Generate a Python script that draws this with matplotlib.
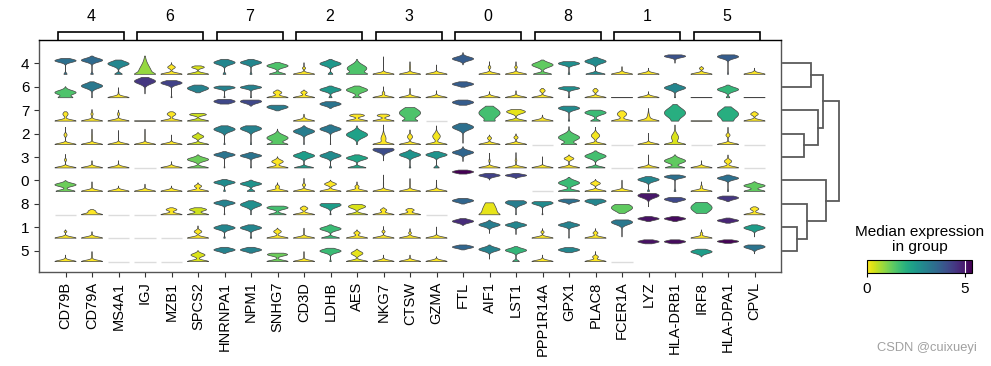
import numpy as np
import matplotlib
matplotlib.use("Agg")
import matplotlib.pyplot as plt
from matplotlib import colors, cm
from matplotlib.transforms import blended_transform_factory

plt.rcParams['font.family'] = ['Liberation Sans', 'DejaVu Sans']

# ---------------- data ----------------
groups = ['4', '6', '7', '2', '3', '0', '8', '1', '5']          # row order (dendrogram order)
genes = ['CD79B', 'CD79A', 'MS4A1', 'IGJ', 'MZB1', 'SPCS2', 'HNRNPA1', 'NPM1', 'SNHG7',
         'CD3D', 'LDHB', 'AES', 'NKG7', 'CTSW', 'GZMA', 'FTL', 'AIF1', 'LST1',
         'PPP1R14A', 'GPX1', 'PLAC8', 'FCER1A', 'LYZ', 'HLA-DRB1', 'IRF8', 'HLA-DPA1', 'CPVL']
var_group_labels = ['4', '6', '7', '2', '3', '0', '8', '1', '5']
var_group_positions = [(0, 2), (3, 5), (6, 8), (9, 11), (12, 14), (15, 17), (18, 20), (21, 23), (24, 26)]

# median expression in group (colour)
median_expr = [
    [3.4, 3.5, 2.9, 0.85, 0, 0.3, 2.9, 2.9, 1.5, 0, 2.5, 1.5, 0, 0, 0, 3.8, 0, 0, 1.3, 2.7, 2.8, 0, 0, 4.0, 0, 3.8, 0],
    [1.5, 3.2, 0, 4.5, 4.3, 3.0, 3.0, 3.0, 0, 0, 2.5, 1.4, 0, 0, 0, 3.8, 0, 0, 0, 2.7, 0, 0, 0, 2.9, 0, 1.8, 0],
    [0, 0, 0, 0, 0, 0.4, 4.2, 4.2, 3.1, 0, 3.3, 0, 0, 1.5, 0, 3.8, 1.6, 0.2, 0, 2.8, 1.7, 0, 0, 2.0, 0, 2.0, 0],
    [0, 0, 0, 0, 0, 0.4, 3.0, 3.0, 1.4, 3.1, 3.2, 2.3, 0, 0, 0.1, 3.4, 0, 0, 0, 1.5, 0.1, 0, 0, 0.3, 0, 0, 0],
    [0, 0, 0, 0, 0, 1.2, 3.3, 3.3, 0, 2.4, 2.8, 2.2, 4.1, 2.6, 2.6, 3.6, 0, 0, 0, 0, 1.6, 0, 0, 1.3, 0, 0, 0],
    [1.2, 0, 0, 0, 0, 0, 2.8, 2.6, 0, 0, 0, 0, 0, 0, 0, 5.4, 4.3, 4.3, 0, 1.7, 0, 0, 2.9, 3.4, 0, 3.4, 1.3],
    [0, 0, 0, 0, 0, 0.4, 3.0, 2.7, 1.6, 0, 2.4, 0.3, 0, 0, 0, 3.6, 0.2, 3.1, 2.8, 3.4, 2.9, 1.3, 5.0, 4.2, 1.6, 4.5, 0],
    [0, 0, 0, 0, 0, 0, 2.9, 2.9, 0, 0, 1.7, 0, 0, 0, 0, 4.7, 3.1, 2.9, 0, 3.0, 0, 3.2, 5.1, 5.2, 0, 4.8, 2.4],
    [0, 0, 0, 0, 0, 0.3, 3.0, 3.0, 1.2, 0, 1.7, 0.2, 0, 0, 0, 3.6, 3.0, 1.8, 0, 2.9, 0, 0, 5.1, 5.2, 2.4, 5.3, 3.3],
]
# fraction of cells with zero expression
zero_frac = [
    [0.07, 0.05, 0.11, 0.05, 0.62, 0.54, 0.05, 0.04, 0.25, 0.85, 0.08, 0.16, 0.95, 0.9, 0.95, 0, 0.85, 0.85, 0.23, 0.04, 0.26, 0.95, 0.95, 0, 0.81, 0.02, 0.95],
    [0.2, 0.01, 0.9, 0, 0.02, 0, 0.03, 0.03, 0.59, 0.7, 0.06, 0.12, 0.85, 0.92, 0.95, 0, 0.95, 0.95, 0.7, 0.04, 0.7, 1, 0.97, 0.02, 1, 0.06, 1],
    [0.64, 0.85, 0.87, 1, 0.55, 0.47, 0, 0, 0, 0.9, 0, 0.5, 0.54, 0.1, 1, 0, 0.05, 0.33, 0.9, 0.03, 0.15, 0.44, 0.4, 0.02, 1, 0.03, 0.62],
    [0.8, 0.9, 0.95, 0.95, 0.96, 0.48, 0.02, 0.02, 0.21, 0.01, 0.01, 0.01, 0.48, 0.64, 0.45, 0, 0.78, 0.78, 1, 0.15, 0.47, 1, 0.97, 0.4, 1, 0.75, 1],
    [0.88, 0.95, 0.95, 1, 0.96, 0.3, 0.02, 0.02, 0.48, 0.26, 0.04, 0.27, 0, 0.03, 0.1, 0, 0.9, 0.88, 0.98, 0.56, 0.24, 1, 0.95, 0.24, 0.97, 0.59, 1],
    [0.31, 0.95, 0.97, 0.97, 0.97, 0.67, 0.04, 0.15, 0.78, 0.82, 0.51, 0.78, 0.93, 0.93, 0.93, 0, 0, 0, 1, 0.26, 0.56, 0.97, 0.04, 0.05, 0.9, 0.03, 0.33],
    [1, 0.67, 1, 1, 0.58, 0.42, 0.02, 0.01, 0.29, 0.62, 0.02, 0.35, 0.7, 0.64, 1, 0, 0.03, 0.01, 0.02, 0, 0, 0, 0, 0, 0, 0, 0.59],
    [0.9, 0.96, 1, 1, 1, 0.62, 0.03, 0.03, 0.62, 0.95, 0.27, 0.7, 0.85, 0.87, 0.95, 0, 0, 0, 0.85, 0.01, 0.75, 0, 0, 0, 0.88, 0, 0],
    [0.95, 0.92, 1, 1, 1, 0.43, 0, 0, 0.38, 0.95, 0.03, 0.44, 0.97, 0.95, 0.97, 0, 0, 0.12, 0.95, 0, 0.72, 1, 0, 0, 0, 0, 0],
]
# mode of the expressing cells (row-scaled expression, 0..1)
expr_mode = [
    [0.58, 0.6, 0.45, 0.0, 0.3, 0.3, 0.5, 0.5, 0.36, 0.26, 0.45, 0.25, 0.3, 0.3, 0.2, 0.66, 0.3, 0.3, 0.4, 0.46, 0.55, 0.15, 0.1, 0.77, 0.25, 0.75, 0.1],
    [0.22, 0.5, 0.15, 0.7, 0.63, 0.4, 0.43, 0.44, 0.22, 0.22, 0.34, 0.33, 0.2, 0.15, 0.1, 0.58, 0.1, 0.1, 0.3, 0.4, 0.3, 0, 0.1, 0.42, 0, 0.35, 0],
    [0.3, 0.3, 0.3, 0, 0.3, 0.28, 0.84, 0.84, 0.6, 0.15, 0.73, 0.24, 0.24, 0.35, 0, 0.8, 0.35, 0.4, 0.1, 0.55, 0.36, 0.3, 0.0, 0.35, 0, 0.3, 0.3],
    [0.41, 0.3, 0.3, 0.3, 0.2, 0.34, 0.65, 0.68, 0.28, 0.56, 0.66, 0.42, 0.25, 0.33, 0.35, 0.74, 0.27, 0.3, 0, 0.3, 0.38, 0, 0.2, 0.3, 0, 0.4, 0],
    [0.34, 0.15, 0.15, 0, 0.1, 0.36, 0.56, 0.52, 0.27, 0.52, 0.52, 0.42, 0.78, 0.56, 0.56, 0.66, 0.3, 0.32, 0.2, 0.4, 0.5, 0, 0.2, 0.3, 0.1, 0.28, 0],
    [0.28, 0.2, 0.1, 0.1, 0.1, 0.22, 0.38, 0.32, 0.2, 0.27, 0.31, 0.2, 0.3, 0.25, 0.2, 0.83, 0.68, 0.68, 0, 0.36, 0.34, 0.2, 0.5, 0.62, 0.2, 0.56, 0.24],
    [0, 0.15, 0, 0, 0.22, 0.22, 0.5, 0.43, 0.3, 0.27, 0.42, 0.35, 0.2, 0.2, 0, 0.6, 0.05, 0.52, 0.5, 0.6, 0.58, 0.3, 0.82, 0.66, 0.3, 0.72, 0.25],
    [0.28, 0.1, 0, 0, 0, 0.28, 0.44, 0.44, 0.28, 0.2, 0.4, 0.22, 0.28, 0.22, 0.2, 0.72, 0.57, 0.56, 0.26, 0.56, 0.22, 0.68, 0.83, 0.83, 0.2, 0.75, 0.44],
    [0.1, 0.2, 0, 0, 0, 0.28, 0.5, 0.5, 0.3, 0.2, 0.45, 0.35, 0.1, 0.1, 0.08, 0.62, 0.52, 0.48, 0.1, 0.5, 0.2, 0, 0.85, 0.85, 0.42, 0.86, 0.63],
]
# spread of the expressing cells
expr_sd = [
    [0.07, 0.08, 0.1, 0.33, 0.06, 0.05, 0.09, 0.08, 0.08, 0.04, 0.09, 0.15, 0.2, 0.08, 0.15, 0.08, 0.05, 0.05, 0.1, 0.07, 0.09, 0.1, 0.1, 0.06, 0.04, 0.08, 0.1],
    [0.09, 0.1, 0.1, 0.11, 0.08, 0.1, 0.06, 0.06, 0.06, 0.05, 0.08, 0.1, 0.05, 0.1, 0.1, 0.07, 0.1, 0.1, 0.06, 0.06, 0.06, 0.1, 0.1, 0.09, 0.1, 0.09, 0.1],
    [0.08, 0.06, 0.06, 0.1, 0.07, 0.05, 0.08, 0.08, 0.08, 0.06, 0.08, 0.05, 0.05, 0.18, 0.1, 0.08, 0.2, 0.08, 0.08, 0.08, 0.09, 0.1, 0.2, 0.2, 0.1, 0.2, 0.06],
    [0.06, 0.12, 0.15, 0.15, 0.1, 0.07, 0.1, 0.1, 0.12, 0.1, 0.09, 0.13, 0.15, 0.08, 0.12, 0.11, 0.05, 0.05, 0.1, 0.13, 0.1, 0.1, 0.15, 0.15, 0.1, 0.06, 0.1],
    [0.05, 0.1, 0.1, 0.1, 0.1, 0.08, 0.07, 0.07, 0.07, 0.09, 0.09, 0.08, 0.1, 0.09, 0.08, 0.08, 0.06, 0.06, 0.15, 0.06, 0.1, 0.1, 0.15, 0.1, 0.1, 0.07, 0.1],
    [0.07, 0.1, 0.08, 0.1, 0.08, 0.05, 0.07, 0.07, 0.05, 0.05, 0.06, 0.05, 0.15, 0.12, 0.12, 0.06, 0.06, 0.05, 0.1, 0.1, 0.06, 0.15, 0.08, 0.06, 0.05, 0.07, 0.07],
    [0.1, 0.05, 0.1, 0.1, 0.05, 0.06, 0.07, 0.1, 0.07, 0.06, 0.1, 0.08, 0.05, 0.05, 0.1, 0.07, 0.4, 0.1, 0.08, 0.06, 0.08, 0.15, 0.1, 0.07, 0.2, 0.07, 0.06],
    [0.03, 0.1, 0.1, 0.1, 0.1, 0.06, 0.08, 0.08, 0.06, 0.12, 0.08, 0.05, 0.04, 0.04, 0.12, 0.07, 0.08, 0.07, 0.04, 0.07, 0.05, 0.1, 0.06, 0.06, 0.04, 0.06, 0.08],
    [0.1, 0.1, 0.1, 0.1, 0.1, 0.07, 0.07, 0.07, 0.06, 0.12, 0.08, 0.08, 0.1, 0.1, 0.08, 0.06, 0.08, 0.08, 0.1, 0.07, 0.05, 0.1, 0.06, 0.06, 0.08, 0.05, 0.08],
]
# max and min expression (row-scaled, 0..1)
expr_max = [
    [0.68, 0.78, 0.61, 0.78, 0.5, 0.36, 0.64, 0.64, 0.5, 0.5, 0.64, 0.64, 0.75, 0.54, 0.4, 0.93, 0.54, 0.54, 0.61, 0.54, 0.73, 0.33, 0.26, 0.83, 0.33, 0.83, 0.26],
    [0.47, 0.68, 0.43, 0.87, 0.73, 0.54, 0.5, 0.54, 0.33, 0.33, 0.5, 0.5, 0.47, 0.4, 0.3, 0.68, 0.26, 0.3, 0.4, 0.47, 0.4, 0.01, 0.26, 0.61, 0.01, 0.54, 0.01],
    [0.4, 0.5, 0.47, 0.01, 0.4, 0.33, 0.93, 0.9, 0.68, 0.3, 0.83, 0.3, 0.3, 0.58, 0, 0.9, 0.64, 0.5, 0.26, 0.64, 0.47, 0.44, 0.54, 0.71, 0.01, 0.61, 0.4],
    [0.74, 0.66, 0.6, 0.66, 0.41, 0.51, 0.8, 0.8, 0.66, 0.8, 0.84, 0.8, 0.84, 0.63, 0.8, 0.91, 0.41, 0.46, 0, 0.77, 0.74, 0, 0.48, 0.84, 0, 0.74, 0],
    [0.58, 0.31, 0.31, 0, 0.27, 0.56, 0.7, 0.66, 0.48, 0.7, 0.7, 0.56, 0.84, 0.77, 0.7, 0.91, 0.63, 0.66, 0.48, 0.56, 0.73, 0, 0.56, 0.56, 0.31, 0.56, 0],
    [0.46, 0.41, 0.23, 0.31, 0.23, 0.37, 0.51, 0.48, 0.37, 0.56, 0.48, 0.41, 0.7, 0.55, 0.48, 0.91, 0.77, 0.77, 0, 0.6, 0.51, 0.48, 0.63, 0.7, 0.41, 0.7, 0.41],
    [0, 0.23, 0, 0, 0.3, 0.3, 0.63, 0.6, 0.37, 0.37, 0.48, 0.44, 0.3, 0.27, 0, 0.7, 0.51, 0.6, 0.56, 0.67, 0.67, 0.44, 0.91, 0.74, 0.53, 0.8, 0.34],
    [0.36, 0.28, 0, 0, 0, 0.53, 0.57, 0.57, 0.43, 0.43, 0.57, 0.36, 0.5, 0.41, 0.48, 0.84, 0.77, 0.7, 0.41, 0.7, 0.41, 0.78, 0.93, 0.93, 0.36, 0.86, 0.57],
    [0.28, 0.43, 0, 0, 0, 0.47, 0.61, 0.61, 0.36, 0.43, 0.57, 0.53, 0.28, 0.28, 0.21, 0.71, 0.71, 0.64, 0.28, 0.6, 0.43, 0, 0.93, 0.93, 0.53, 0.93, 0.71],
]
expr_min = [
    [0, 0, 0, 0, 0, 0, 0, 0, 0, 0, 0, 0, 0, 0, 0, 0.4, 0, 0, 0, 0, 0, 0, 0, 0.47, 0, 0, 0],
    [0, 0, 0, 0.16, 0, 0.21, 0, 0, 0, 0, 0, 0, 0, 0, 0, 0.45, 0, 0, 0, 0, 0, 0, 0, 0, 0, 0, 0],
    [0, 0, 0, 0, 0, 0, 0.73, 0.64, 0.44, 0, 0.54, 0, 0, 0, 0, 0.68, 0, 0, 0, 0, 0, 0, 0, 0, 0, 0, 0],
    [0, 0, 0, 0, 0, 0, 0, 0, 0, 0, 0, 0, 0, 0, 0, 0.05, 0, 0, 0, 0, 0, 0, 0, 0, 0, 0, 0],
    [0, 0, 0, 0, 0, 0, 0, 0, 0, 0, 0, 0, 0.3, 0, 0, 0.27, 0, 0, 0, 0, 0, 0, 0, 0, 0, 0, 0],
    [0, 0, 0, 0, 0, 0, 0, 0, 0, 0, 0, 0, 0, 0, 0, 0.74, 0.48, 0.55, 0, 0, 0, 0, 0, 0, 0, 0, 0],
    [0, 0, 0, 0, 0, 0, 0, 0, 0, 0, 0, 0, 0, 0, 0, 0.46, 0, 0, 0, 0.45, 0.4, 0.06, 0.34, 0.53, 0.06, 0.56, 0],
    [0, 0, 0, 0, 0, 0, 0, 0, 0, 0, 0, 0, 0, 0, 0, 0.55, 0.2, 0.15, 0, 0, 0, 0.05, 0.71, 0.71, 0, 0.64, 0.05],
    [0, 0, 0, 0, 0, 0, 0.35, 0.36, 0, 0, 0, 0, 0, 0, 0, 0.5, 0.1, 0, 0, 0.38, 0, 0, 0.76, 0.76, 0.2, 0.78, 0.33],
]
# dendrogram of groups: (left, right, height)
dendro_links = [('4', '6', 0.49), ('2', '3', 0.37), ('7', 'n1', 0.63), ('n0', 'n2', 0.71),
                ('1', '5', 0.24), ('8', 'n4', 0.42), ('0', 'n5', 0.76), ('n3', 'n6', 1.0)]
vmin, vmax = 0.0, 5.35

# ---------------- figure ----------------
W, H = 991, 366
fig = plt.figure(figsize=(W / 100, H / 100), dpi=100)
ax_l, ax_r, ax_t, ax_b = 39, 781, 40, 272
ax = fig.add_axes([ax_l / W, 1 - ax_b / H, (ax_r - ax_l) / W, (ax_b - ax_t) / H])
ylim = (8.91, -1.0)
ax.set_xlim(-1, 27)
ax.set_ylim(*ylim)

cmap = plt.get_cmap('viridis_r')
norm = colors.Normalize(vmin=vmin, vmax=vmax)
bw_norm = 0.035     # kernel normalisation for the zero mass
bw_shape = 0.055    # kernel width of the zero mass
base_off = 0.466
half_w = 0.4

for k in range(len(groups)):
    yb = k + base_off
    for g in range(len(genes)):
        top = expr_max[k][g]
        if top <= 0:
            ax.plot([g - half_w, g + half_w], [yb, yb], color='#dcdcdc', lw=1.0, zorder=1,
                    solid_capstyle='butt')
            continue
        lo = expr_min[k][g]
        z = zero_frac[k][g]
        m = expr_mode[k][g]
        s = expr_sd[k][g]
        u = np.linspace(lo, top, 240)
        d = (z * np.exp(-0.5 * (u / bw_shape) ** 2) / bw_norm
             + (1 - z) * np.exp(-0.5 * ((u - m) / s) ** 2) / s)
        w = half_w * d / d.max()
        xs = np.concatenate([g - w, (g + w)[::-1]])
        ys = np.concatenate([yb - u, (yb - u)[::-1]])
        ax.fill(xs, ys, facecolor=cmap(norm(median_expr[k][g])), edgecolor='#454545',
                linewidth=0.5, zorder=2)

ax.set_xticks(range(len(genes)))
ax.set_xticklabels(genes, rotation=90, fontsize=10.5)
ax.set_yticks(range(len(groups)))
ax.set_yticklabels(groups, fontsize=11)
ax.tick_params(axis='both', length=3.5, width=0.8, color='#333333')
for side in ['left', 'right', 'bottom']:
    ax.spines[side].set_color('#555555')
    ax.spines[side].set_linewidth(1.0)
ax.spines['top'].set_color('black')
ax.spines['top'].set_linewidth(1.0)

# gene group brackets
trans = blended_transform_factory(ax.transData, ax.transAxes)
yb_top = 1 + (ax_t - 32.3) / (ax_b - ax_t)
ylab = 1 + (ax_t - 16.7) / (ax_b - ax_t)
for lab, (s0, s1) in zip(var_group_labels, var_group_positions):
    x0, x1 = s0 - 0.3, s1 + 0.2
    ax.plot([x0, x0, x1, x1], [1.0, yb_top, yb_top, 1.0], color='black', lw=1.2,
            transform=trans, clip_on=False, solid_joinstyle='miter')
    ax.text((x0 + x1) / 2, ylab, lab, transform=trans, ha='center', va='center', fontsize=11.5)

# dendrogram
dx0, dx1 = 783, 839.3
dax = fig.add_axes([dx0 / W, 1 - ax_b / H, (850 - dx0) / W, (ax_b - ax_t) / H])
dax.set_ylim(*ylim)
dax.set_xlim(0, (850 - dx0) / (dx1 - dx0))
dax.axis('off')
pos = {gname: (float(i), 0.0) for i, gname in enumerate(groups)}
for i, (a, b, h) in enumerate(dendro_links):
    ya, ha = pos[a]
    yb2, hb = pos[b]
    dax.plot([ha, h, h, hb], [ya, ya, yb2, yb2], color='#5a5a5a', lw=1.3, clip_on=False,
             solid_joinstyle='miter')
    pos['n%d' % i] = ((ya + yb2) / 2, h)

# colorbar
cax = fig.add_axes([867 / W, 1 - 273.3 / H, 104.7 / W, 13.3 / H])
sm = cm.ScalarMappable(norm=norm, cmap=cmap)
cb = fig.colorbar(sm, cax=cax, orientation='horizontal', ticks=[0, 5])
cb.outline.set_linewidth(0.8)
cax.tick_params(labelsize=11, length=3, width=0.8)
cax.axvline(5, color='white', lw=0.8)
fig.text(920 / W, 1 - 231.7 / H, 'Median expression', ha='center', va='center', fontsize=11.1)
fig.text(920 / W, 1 - 246.7 / H, 'in group', ha='center', va='center', fontsize=11.1)

fig.text(976.7 / W, 1 - 348.3 / H, 'CSDN @cuixueyi', ha='right', va='center', fontsize=9.3,
         color='#a0a0a0')

fig.savefig('out.png', dpi=100)
